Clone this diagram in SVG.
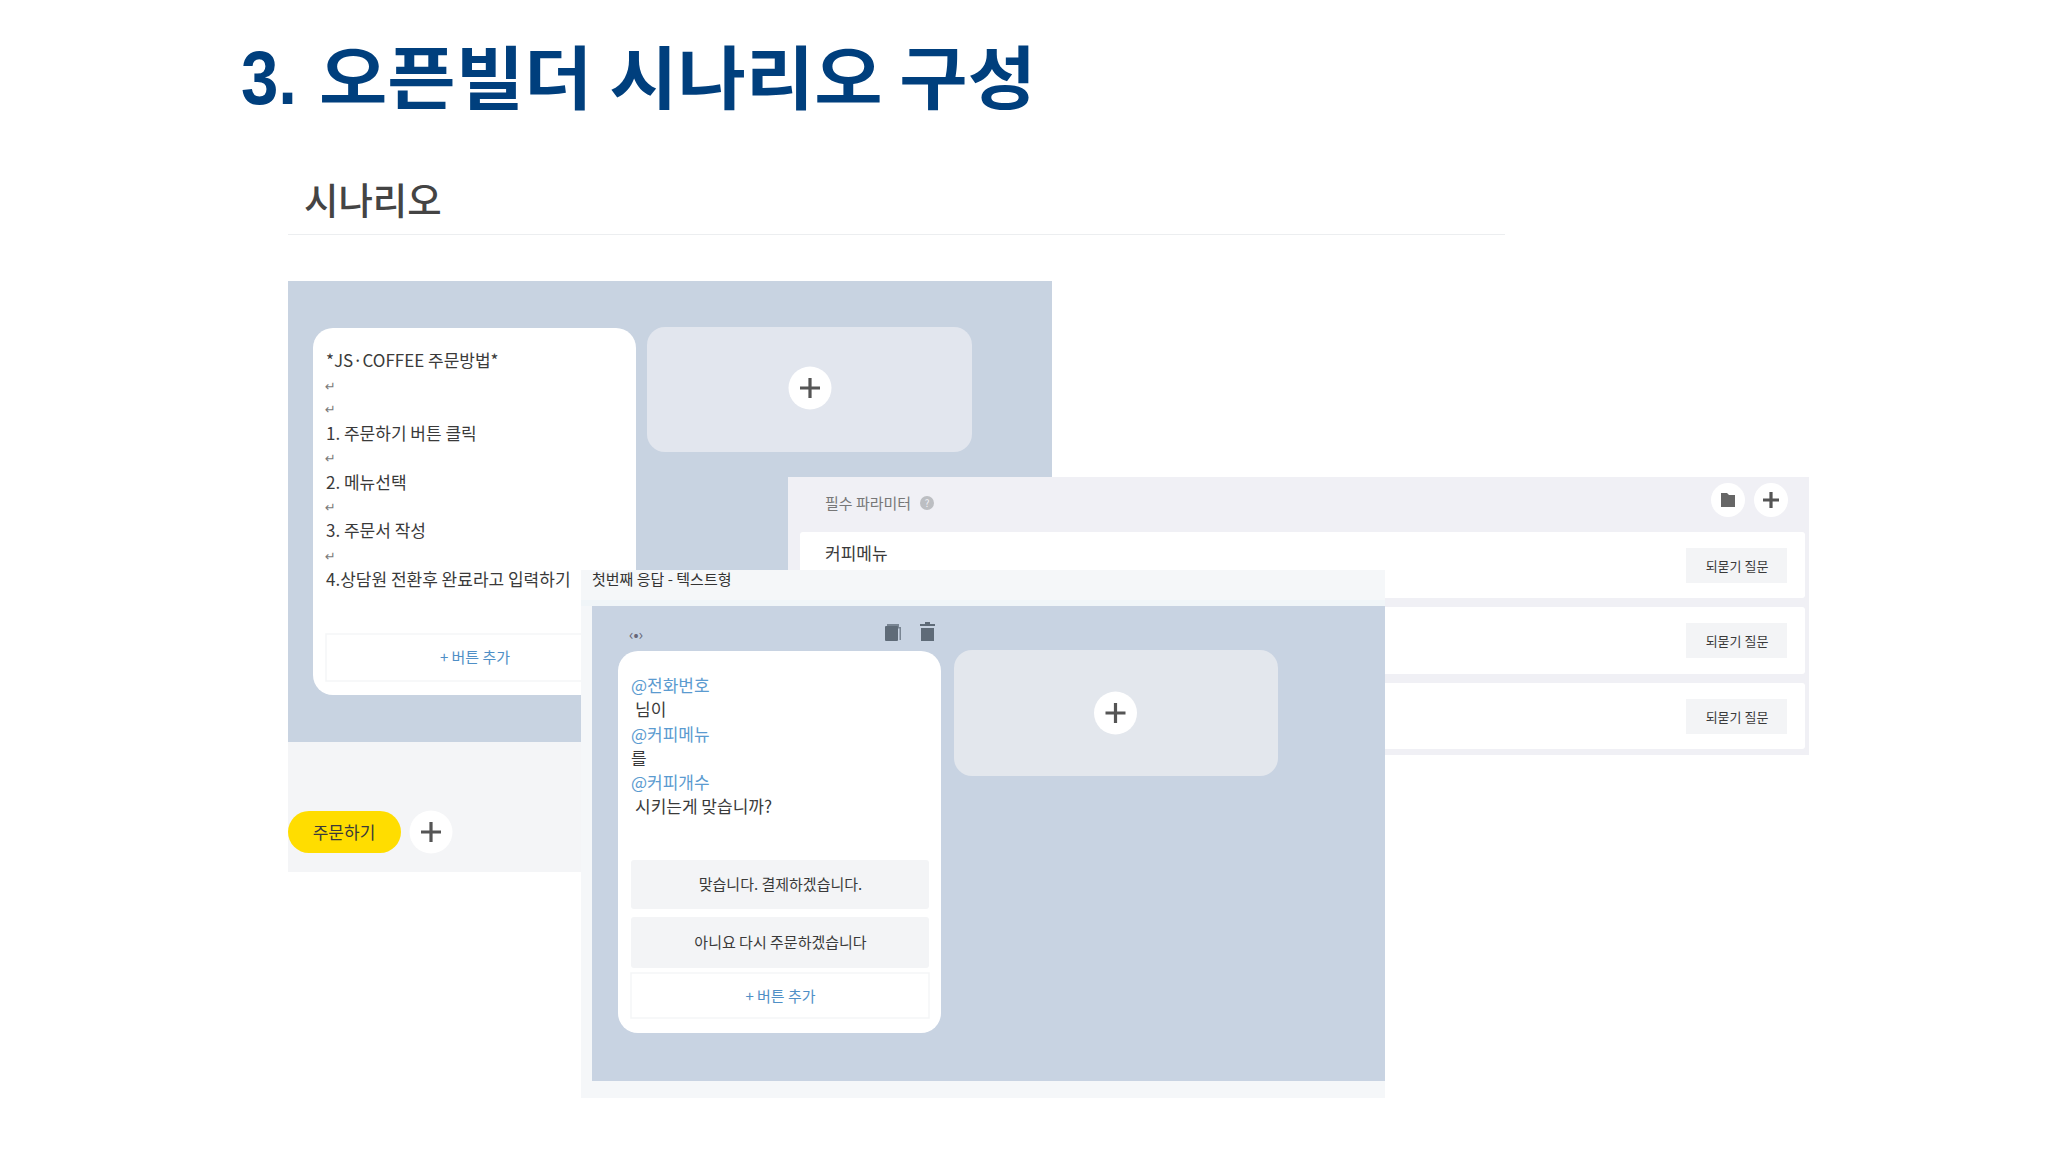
<svg xmlns="http://www.w3.org/2000/svg" width="2048" height="1152" viewBox="0 0 2048 1152">
<defs>
<style>
text{font-family:"Noto Sans CJK KR","Noto Sans",sans-serif;fill:#3a3a3a}
.title{font-size:69px;font-weight:700;fill:#003f7d}
.num{font-family:"Liberation Sans","Noto Sans CJK KR",sans-serif;font-size:76px}
.sub{font-size:37.400px;font-weight:500;fill:#444}
.t17{font-size:17px}
.t15{font-size:15px}
.link{font-size:17px;fill:#5b9bd0}
.add{font-size:15px;fill:#4f8fc6;text-anchor:middle}
.mid{text-anchor:middle}
.ret{font-family:"DejaVu Sans",sans-serif;font-size:13px;fill:#7a7a7a}
.blue{fill:#c8d3e1}
.white{fill:#fff}
.slot{fill:#e2e6ee}
.btn{fill:#f3f4f6}
.addbox{fill:#fff;stroke:#f5f6f7;stroke-width:1.5}
.pl{stroke:#555;stroke-width:3.2;fill:none}
.ico{fill:#5f6b78}
</style>
<g id="plus"><circle r="21.5" class="white"/><path class="pl" d="M-10 0H10M0-10V10"/></g>
</defs>
<rect width="2048" height="1152" fill="#fff"/>

<g id="heading">
<text class="title" y="104"><tspan class="num" x="241" textLength="56" lengthAdjust="spacingAndGlyphs">3.</tspan><tspan x="319" textLength="717" lengthAdjust="spacingAndGlyphs">오픈빌더 시나리오 구성</tspan></text>
<text class="sub" x="304" y="214.500">시나리오</text>
<rect x="288" y="234" width="1217" height="1" fill="#eceef0"/>
</g>

<g id="connectors"></g>

<g id="panel-first">
<rect x="288" y="281" width="764" height="461" class="blue"/>
<rect x="288" y="742" width="300" height="130" fill="#f4f5f7"/>
<g id="card-coffee">
<rect x="313" y="328" width="323" height="367" rx="20" class="white"/>
<text class="t17" x="326" y="366.500">*JS·COFFEE 주문방법*</text>
<text class="ret" x="325" y="391">↵</text>
<text class="ret" x="325" y="414">↵</text>
<text class="t17" x="326" y="439.500">1. 주문하기 버튼 클릭</text>
<text class="ret" x="325" y="463">↵</text>
<text class="t17" x="326" y="488.500">2. 메뉴선택</text>
<text class="ret" x="325" y="512">↵</text>
<text class="t17" x="326" y="537">3. 주문서 작성</text>
<text class="ret" x="325" y="561">↵</text>
<text class="t17" x="326" y="585.500">4.상담원 전환후 완료라고 입력하기</text>
<rect x="326" y="634" width="297" height="47" class="addbox"/>
<text class="add" x="475" y="663">+ 버튼 추가</text>
</g>
<g id="slot-first">
<rect x="647" y="327" width="325" height="125" rx="18" class="slot"/>
<use href="#plus" x="810" y="388"/>
</g>
<g id="btn-order">
<rect x="288" y="811" width="113" height="42" rx="21" fill="#ffdd00"/>
<text class="t17 mid" x="344" y="838.500">주문하기</text>
</g>
<use id="btn-order-add" href="#plus" x="431" y="832"/>
</g>

<g id="panel-params">
<rect x="788" y="477" width="1021" height="278" fill="#f0f0f5"/>
<text class="t15" x="825" y="508.500" style="fill:#777">필수 파라미터</text>
<circle cx="927" cy="503" r="7" fill="#bcbec2"/>
<text class="mid" x="927" y="507" style="font-size:10px;fill:#f0f0f5">?</text>
<g id="btn-folder">
<circle cx="1728" cy="500" r="17" class="white"/>
<path fill="#666" d="M1721 493h6l2 2h6v12h-14z"/>
</g>
<g id="btn-param-add">
<circle cx="1771" cy="500" r="17" class="white"/>
<path class="pl" d="M1763 500H1779M1771 492V508"/>
</g>
<g id="param-1">
<rect x="800" y="532" width="1005" height="66" rx="3" class="white"/>
<text class="t17" x="825" y="559.500">커피메뉴</text>
<rect x="1686" y="548" width="101" height="35" class="btn"/>
<text class="t15 mid" x="1737" y="571" style="font-size:13px">되묻기 질문</text>
</g>
<g id="param-2">
<rect x="800" y="607" width="1005" height="67" rx="3" class="white"/>
<rect x="1686" y="623" width="101" height="35" class="btn"/>
<text class="t15 mid" x="1737" y="646" style="font-size:13px">되묻기 질문</text>
</g>
<g id="param-3">
<rect x="800" y="683" width="1005" height="66" rx="3" class="white"/>
<rect x="1686" y="699" width="101" height="35" class="btn"/>
<text class="t15 mid" x="1737" y="722" style="font-size:13px">되묻기 질문</text>
</g>
</g>

<g id="panel-response">
<rect x="581" y="570" width="804" height="528" fill="#f5f7f9"/>
<rect x="581" y="600" width="804" height="6" fill="#f0f5f8"/>
<rect x="592" y="606" width="793" height="475" fill="#c8d3e2"/>
<text class="t15" x="592" y="585" style="fill:#333">첫번째 응답 - 텍스트형</text>
<text class="t15 mid" x="636" y="640" style="font-size:15px;fill:#667">‹•›</text>
<g id="icon-copy">
<path class="ico" d="M887 624h12v3h2v13h-1.500v-11.500h-12.500z" opacity=".75"/>
<rect x="885" y="626" width="13" height="15" rx="1" class="ico"/>
</g>
<g id="icon-trash">
<path class="ico" d="M925 622h5v2h5v2h-15v-2h5zM921 628h13v13h-13z"/>
</g>
<g id="card-confirm">
<rect x="618" y="651" width="323" height="382" rx="20" class="white"/>
<text class="link" x="631" y="692">@전화번호</text>
<text class="t17" x="635" y="716">님이</text>
<text class="link" x="631" y="740.500">@커피메뉴</text>
<text class="t17" x="631" y="764.500">를</text>
<text class="link" x="631" y="789">@커피개수</text>
<text class="t17" x="635" y="813">시키는게 맞습니까?</text>
<rect x="631" y="860" width="298" height="49" rx="3" class="btn"/>
<text class="t15 mid" x="780.500" y="890">맞습니다. 결제하겠습니다.</text>
<rect x="631" y="917" width="298" height="51" rx="3" class="btn"/>
<text class="t15 mid" x="780.500" y="948">아니요 다시 주문하겠습니다</text>
<rect x="631" y="973" width="298" height="45" class="addbox"/>
<text class="add" x="780.500" y="1002">+ 버튼 추가</text>
</g>
<g id="slot-response">
<rect x="954" y="650" width="324" height="126" rx="18" fill="#e3e7ed"/>
<use href="#plus" x="1115.500" y="713"/>
</g>
</g>
</svg>
